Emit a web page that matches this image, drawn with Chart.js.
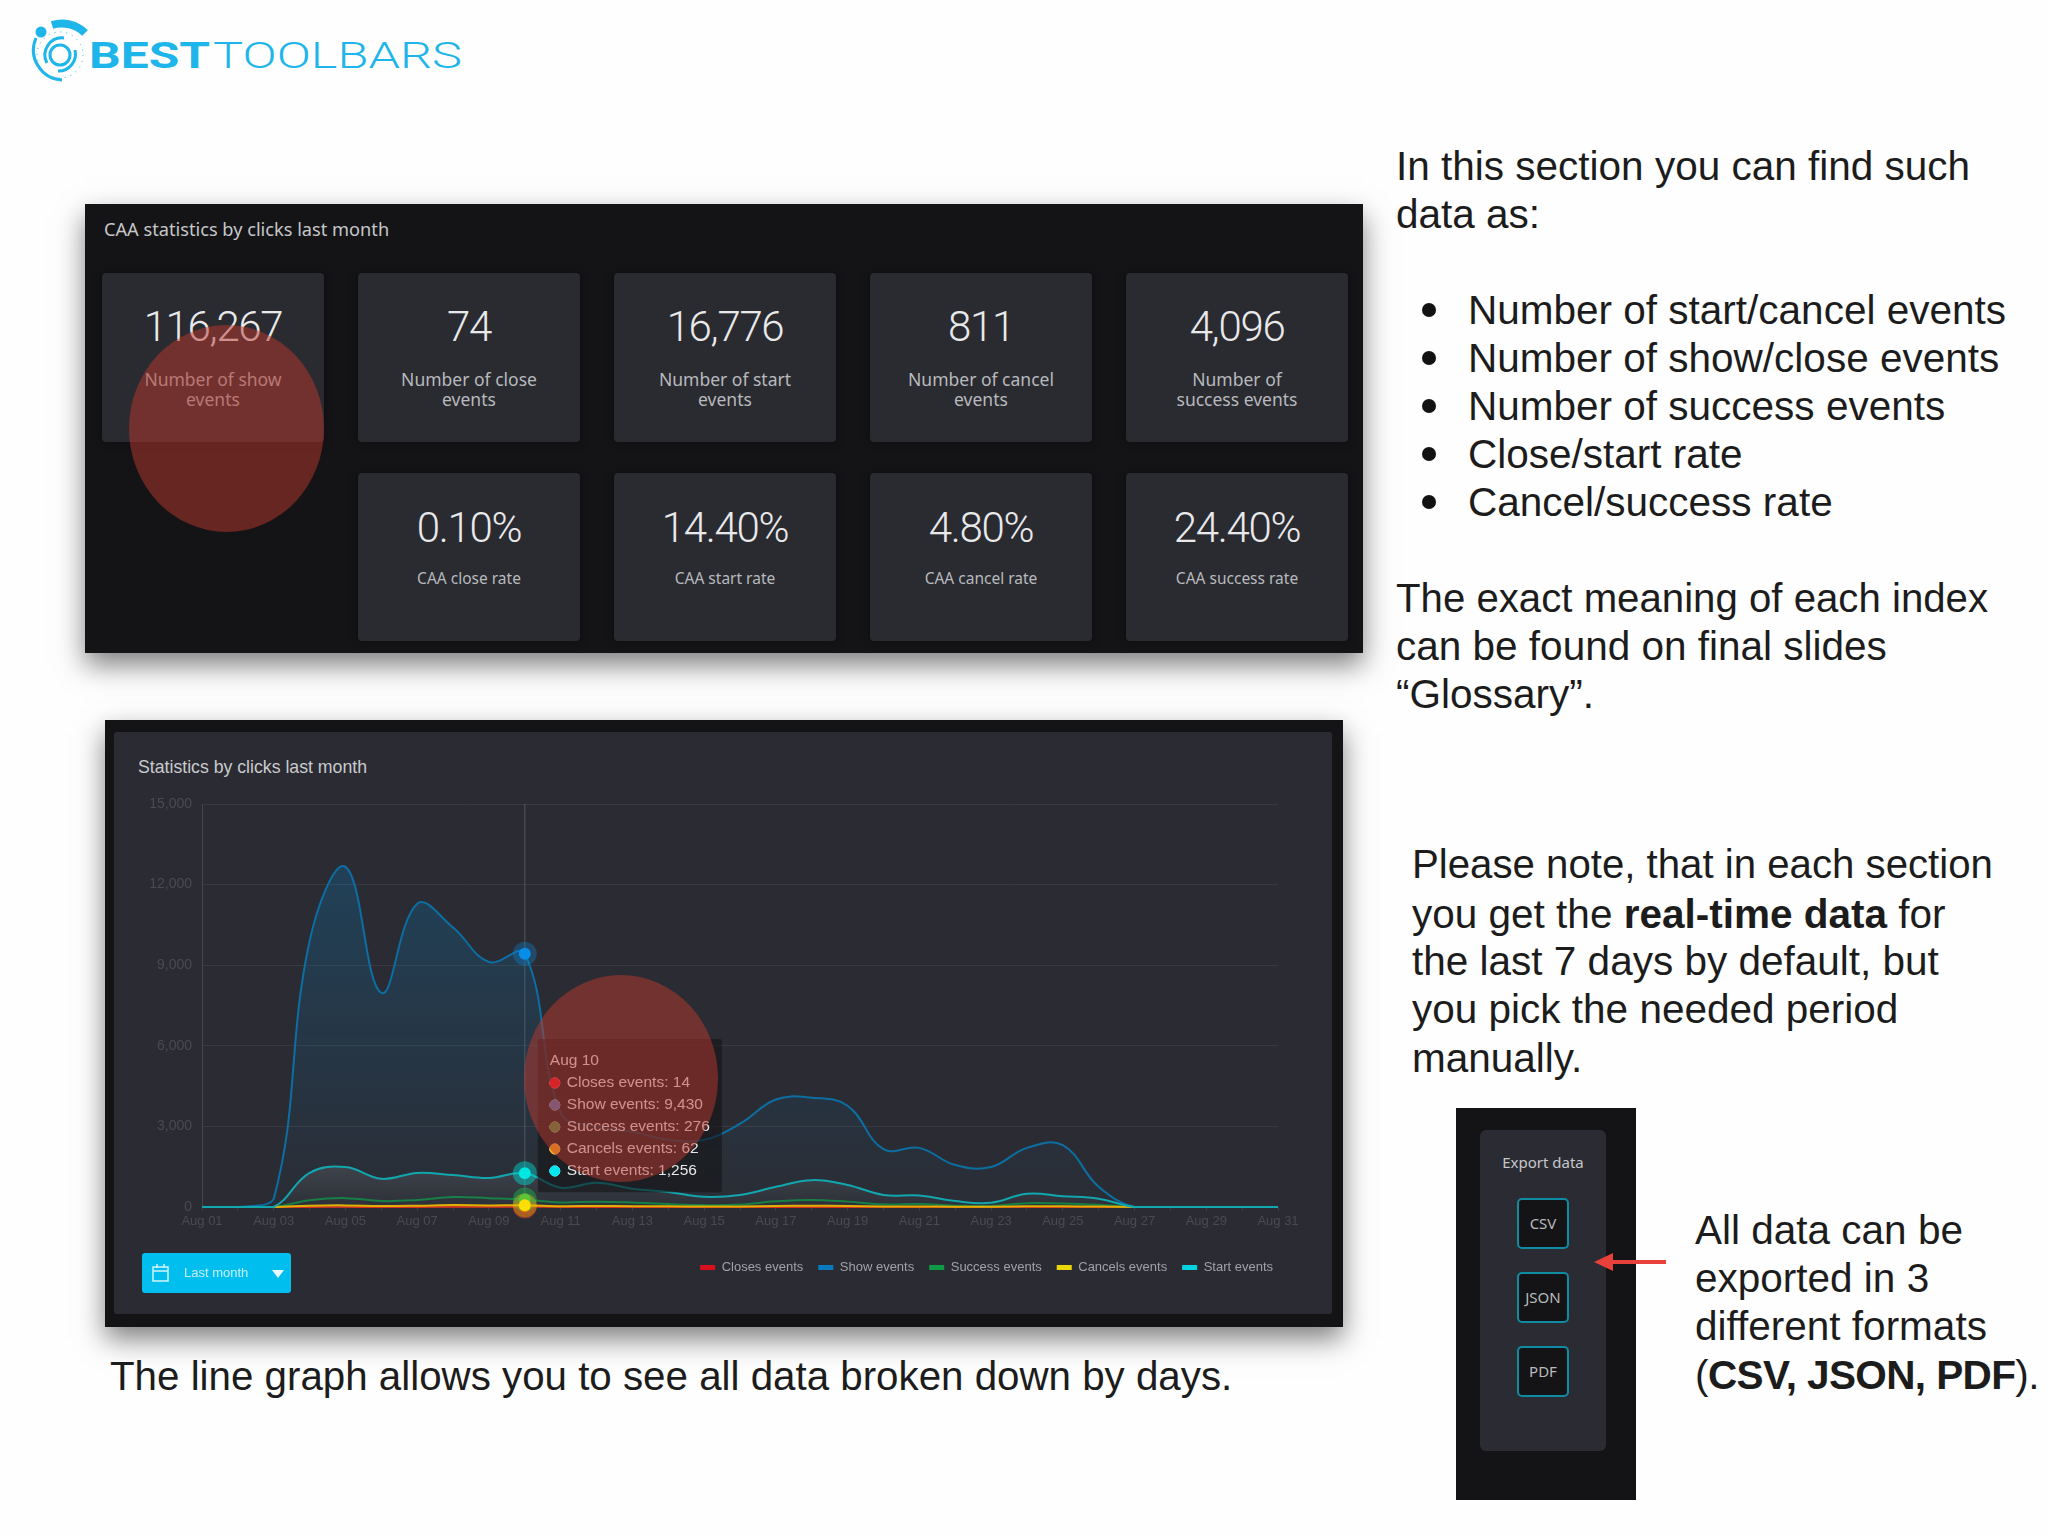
<!DOCTYPE html>
<html>
<head>
<meta charset="utf-8">
<title>Best Toolbars</title>
<script src="https://cdn.jsdelivr.net/npm/chart.js@4"></script>
<style>
html, body { margin: 0; padding: 0; background: #fefefe; }
body { position: relative; width: 2048px; height: 1536px; overflow: hidden; font-family: "Liberation Sans", Arial, sans-serif; }
.abs { position: absolute; }
.t { position: absolute; white-space: nowrap; font-size: 40.5px; line-height: 48px; color: #1c1c1c; }
.dot { position: absolute; left: 1422px; width: 14px; height: 14px; border-radius: 50%; background: #111; }
#panelTop { left: 85px; top: 204px; width: 1278px; height: 449px; background: #141416; box-shadow: 0 12px 26px rgba(0,0,0,.5); }
#cardTitle { position: absolute; left: 19px; top: 13px; color: #c6c7ca; font: 18.2px/24px "Noto Sans", sans-serif; }
#cards { position: absolute; left: 17px; top: 69px; display: grid; grid-template-columns: repeat(5, 222px); grid-template-rows: 169px 168px; column-gap: 34px; row-gap: 31px; }
.card { background: #2a2b31; border-radius: 4px; text-align: center; color: #b8b9bd; box-shadow: 0 0 8px rgba(0,0,0,.35); }
.card .num { font: 300 42px/50px Roboto, sans-serif; letter-spacing: -1.3px; color: #e9e9ea; margin-top: 29px; }
.card .lab { font: 17.5px/20px "Noto Sans", sans-serif; margin-top: 17px; padding: 0 34px; }
.card.low .num { margin-top: 30px; }
.card.low .lab { font-size: 15.5px; margin-top: 15px; padding: 0; }
.empty { background: none; box-shadow: none; }
#panelChart { left: 105px; top: 720px; width: 1238px; height: 607px; background: #141416; box-shadow: 0 12px 26px rgba(0,0,0,.5); }
#panelInner { left: 114px; top: 732px; width: 1218px; height: 582px; background: #2b2c33; border-radius: 3px; }
#chartTitle { left: 138px; top: 755px; color: #c9cacd; font-size: 17.7px; line-height: 24px; }
#myChart { position: absolute; left: 114px; top: 732px; }
#btnMonth { left: 142px; top: 1253px; width: 149px; height: 40px; background: #00bfef; border-radius: 3px; color: #c8effb; font-size: 13px; line-height: 40px; }
#btnMonth span { position: absolute; left: 42px; }
.redspot { position: absolute; background: rgba(185,55,45,.5); border-radius: 50%; }
#exportOuter { left: 1456px; top: 1108px; width: 180px; height: 392px; background: #141416; }
#exportInner { left: 1480px; top: 1130px; width: 126px; height: 321px; background: #2b2c33; border-radius: 6px; }
#exportTitle { left: 1480px; width: 126px; top: 1150px; text-align: center; color: #c6c7ca; font: 15px/24px "Noto Sans", sans-serif; }
.exp { position: absolute; left: 1517px; width: 48px; height: 47px; border: 2px solid #0f8ba3; border-radius: 5px; background: #141416; color: #b9babd; text-align: center; font: 15px/47px "Noto Sans", sans-serif; }
</style>
</head>
<body>

<!-- логотип -->
<svg class="abs" style="left:0;top:0" width="500" height="100">
  <g fill="none" stroke="#1eb6ea">
    <path d="M52 25 A33 33 0 0 1 85 33" stroke-width="8"/>
    <path d="M36 38 A30 30 0 0 0 62 80" stroke-width="3"/>
    <path d="M47 63 A17 17 0 0 1 64 38" stroke-width="3"/>
    <path d="M75 50 A17 17 0 0 1 58 71" stroke-width="3"/>
    <circle cx="60" cy="55" r="10" stroke-width="3"/>
    <circle cx="60" cy="55" r="23" stroke-width="1" stroke-dasharray="1 5"/>
  </g>
  <circle cx="41" cy="32" r="5.5" fill="#1eb6ea"/>
  <text x="89" y="68" font-family="Roboto" font-weight="700" font-size="37" fill="#1eb6ea" textLength="121" lengthAdjust="spacingAndGlyphs">BEST</text>
  <text x="213" y="68" font-family="Roboto" font-weight="300" font-size="37" fill="#1eb6ea" textLength="249" lengthAdjust="spacingAndGlyphs">TOOLBARS</text>
</svg>

<!-- верхняя панель с карточками -->
<div id="panelTop" class="abs">
  <div id="cardTitle">CAA statistics by clicks last month</div>
  <div id="cards"></div>
</div>
<div class="redspot" style="left:129px;top:325px;width:195px;height:207px"></div>

<!-- панель графика -->
<div id="panelChart" class="abs"></div>
<div id="panelInner" class="abs"></div>
<div id="chartTitle" class="abs">Statistics by clicks last month</div>
<canvas id="myChart" width="1218" height="582"></canvas>
<div id="btnMonth" class="abs">
  <svg class="abs" style="left:10px;top:11px" width="18" height="18"><rect x="1" y="3" width="15" height="14" fill="none" stroke="#d5f3fc" stroke-width="1.5"/><path d="M1 7H16M5 0V4M12 0V4" stroke="#d5f3fc" stroke-width="1.5"/></svg>
  <span>Last month</span>
  <svg class="abs" style="left:130px;top:17px" width="12" height="8"><path d="M0 0H12L6 8Z" fill="#e8f8fd"/></svg>
</div>
<div class="redspot" style="left:524px;top:975px;width:194px;height:207px"></div>

<div class="t" style="left:110px;top:1353px;font-size:40.3px">The line graph allows you to see all data broken down by days.</div>

<!-- текст справа -->
<div class="t" style="left:1396px;top:142px">In this section you can find such</div>
<div class="t" style="left:1396px;top:190px">data as:</div>
<div class="dot" style="top:303px"></div><div class="t" style="left:1468px;top:286px">Number of start/cancel events</div>
<div class="dot" style="top:351px"></div><div class="t" style="left:1468px;top:334px">Number of show/close events</div>
<div class="dot" style="top:399px"></div><div class="t" style="left:1468px;top:382px">Number of success events</div>
<div class="dot" style="top:447px"></div><div class="t" style="left:1468px;top:430px">Close/start rate</div>
<div class="dot" style="top:495px"></div><div class="t" style="left:1468px;top:478px">Cancel/success rate</div>
<div class="t" style="left:1396px;top:575px;font-size:40.2px">The exact meaning of each index</div>
<div class="t" style="left:1396px;top:622px">can be found on final slides</div>
<div class="t" style="left:1396px;top:670px">“Glossary”.</div>
<div class="t" style="left:1412px;top:841px;font-size:40.2px">Please note, that in each section</div>
<div class="t" style="left:1412px;top:890px">you get the <b>real-time data</b> for</div>
<div class="t" style="left:1412px;top:937px">the last 7 days by default, but</div>
<div class="t" style="left:1412px;top:985px">you pick the needed period</div>
<div class="t" style="left:1412px;top:1034px">manually.</div>

<!-- экспорт -->
<div id="exportOuter" class="abs"></div>
<div id="exportInner" class="abs"></div>
<div id="exportTitle" class="abs">Export data</div>
<div class="exp" style="top:1198px">CSV</div>
<div class="exp" style="top:1272px">JSON</div>
<div class="exp" style="top:1346px">PDF</div>
<svg class="abs" style="left:1590px;top:1245px" width="80" height="34"><path d="M4 17L23 8V15H76V19H23V26Z" fill="#e8403a"/></svg>
<div class="t" style="left:1695px;top:1206px">All data can be</div>
<div class="t" style="left:1695px;top:1254px">exported in 3</div>
<div class="t" style="left:1695px;top:1302px">different formats</div>
<div class="t" style="left:1695px;top:1351px;letter-spacing:-0.6px">(<b>CSV, JSON, PDF</b>).</div>

<script>
// значения карточек
var cardValues = ['116,267', '74', '16,776', '811', '4,096', '', '0.10%', '14.40%', '4.80%', '24.40%'];
var cardLabels = ['Number of show events', 'Number of close events', 'Number of start events', 'Number of cancel events', 'Number of success events', '', 'CAA close rate', 'CAA start rate', 'CAA cancel rate', 'CAA success rate'];

// данные графика
var days = ['Aug 01', 'Aug 02', 'Aug 03', 'Aug 04', 'Aug 05', 'Aug 06', 'Aug 07', 'Aug 08', 'Aug 09', 'Aug 10', 'Aug 11', 'Aug 12', 'Aug 13', 'Aug 14', 'Aug 15', 'Aug 16', 'Aug 17', 'Aug 18', 'Aug 19', 'Aug 20', 'Aug 21', 'Aug 22', 'Aug 23', 'Aug 24', 'Aug 25', 'Aug 26', 'Aug 27', 'Aug 28', 'Aug 29', 'Aug 30', 'Aug 31'];
var closes = [0, 0, 0, 4, 5, 3, 4, 6, 5, 14, 3, 3, 3, 2, 2, 2, 3, 3, 3, 2, 2, 1, 1, 2, 2, 1, 0, 0, 0, 0, 0];
var shows = [0, 0, 300, 9900, 12660, 7970, 11290, 10400, 9120, 9430, 3500, 3000, 2800, 2500, 2500, 3100, 4000, 4070, 3770, 2150, 2200, 1560, 1490, 2200, 2300, 750, 0, 0, 0, 0, 0];
var successes = [0, 0, 0, 250, 330, 220, 260, 370, 330, 276, 170, 200, 170, 110, 70, 90, 210, 260, 200, 100, 110, 50, 40, 140, 130, 80, 0, 0, 0, 0, 0];
var cancels = [0, 0, 0, 50, 60, 40, 50, 70, 60, 62, 30, 40, 30, 25, 15, 20, 40, 50, 40, 20, 20, 10, 10, 25, 25, 15, 0, 0, 0, 0, 0];
var starts = [0, 0, 0, 1270, 1490, 1050, 1270, 1190, 1080, 1256, 720, 900, 680, 560, 380, 450, 750, 1000, 820, 450, 430, 220, 160, 490, 400, 310, 0, 0, 0, 0, 0];
var yTicks = [0, 3000, 6000, 9000, 12000, 15000];

var legendColors = ['#d8101e', '#0a7ac0', '#0f9a46', '#ecd800', '#00d2e0'];
var tipColors = ['#f00f1e', '#4f74b0', '#4e8c46', '#f4a81c', '#00e6f0'];

function fillCards() {
    var box = document.getElementById('cards');
    cardValues.forEach(function(val, i) {
        var el = document.createElement('div');
        if (val === '') {
            el.className = 'card empty';
        } else {
            el.className = i > 4 ? 'card low' : 'card';
            el.innerHTML = '<div class="num">' + val + '</div><div class="lab">' + cardLabels[i] + '</div>';
        }
        box.appendChild(el);
    });
}

function areaFill(values, rgb, topA, bottomA) {
    return function(c) {
        var chart = c.chart;
        if (!chart.chartArea) return 'transparent';
        var y = chart.scales.y;
        var g = chart.ctx.createLinearGradient(0, y.getPixelForValue(Math.max.apply(null, values)), 0, y.getPixelForValue(0));
        g.addColorStop(0, 'rgba(' + rgb + ',' + topA + ')');
        g.addColorStop(1, 'rgba(' + rgb + ',' + bottomA + ')');
        return g;
    };
}

function line(label, data, color, hover, halo, order) {
    return {
        label: label,
        data: data,
        borderColor: color,
        backgroundColor: color,
        borderWidth: 2,
        tension: 0.4,
        fill: false,
        clip: false,
        order: order,
        pointRadius: 0,
        pointHoverRadius: 6,
        pointHoverBorderWidth: 12,
        pointHoverBackgroundColor: hover,
        pointHoverBorderColor: halo
    };
}

// вертикальная линия у активной точки
var crosshair = {
    id: 'crosshair',
    afterLayout: function(chart) {
        // легенда чуть правее, до края подписей
        chart.legend.right += 10;
    },
    beforeDatasetsDraw: function(chart) {
        var act = chart.getActiveElements();
        if (!act.length) return;
        var ctx = chart.ctx;
        ctx.save();
        ctx.strokeStyle = '#50545e';
        ctx.lineWidth = 1;
        ctx.beginPath();
        ctx.moveTo(act[0].element.x, chart.chartArea.top);
        ctx.lineTo(act[0].element.x, chart.chartArea.bottom);
        ctx.stroke();
        ctx.restore();
    },
    beforeTooltipDraw: function(chart) {
        // после точек остается толстая линия, кружки в подсказке раздуваются
        chart.ctx.lineWidth = 1;
    }
};

function createChart() {
    Chart.Tooltip.positioners.lifted = function(items) {
        var p = Chart.Tooltip.positioners.average.call(this, items);
        return p ? { x: p.x, y: p.y - 32 } : false;
    };

    var dsShow = line('Show events', shows, '#0c6ea2', '#0a8fe8', 'rgba(10,143,232,0.3)', 4);
    dsShow.fill = true;
    dsShow.backgroundColor = areaFill(shows, '0,140,220', 0.22, 0.01);
    var dsStart = line('Start events', starts, '#12a6ae', '#00eef0', 'rgba(0,220,210,0.45)', 1);
    dsStart.fill = true;
    dsStart.backgroundColor = areaFill(starts, '190,190,190', 0.14, 0.02);

    var chart = new Chart(document.getElementById('myChart'), {
        type: 'line',
        data: {
            labels: days,
            datasets: [
                line('Closes events', closes, '#d8301e', '#e0402a', 'rgba(224,64,42,0.5)', 5),
                dsShow,
                line('Success events', successes, '#0f7d42', '#10e040', 'rgba(16,170,70,0.5)', 3),
                line('Cancels events', cancels, '#e0b000', '#ffe800', 'rgba(255,200,0,0.3)', 2),
                dsStart
            ]
        },
        options: {
            responsive: false,
            animation: false,
            devicePixelRatio: 1,
            interaction: { mode: 'index', intersect: false },
            layout: { padding: { left: 28, right: 54, top: 72, bottom: 30 } },
            scales: {
                x: {
                    afterFit: function(s) { s.height = 39; },
                    grid: { drawOnChartArea: false, color: '#3c3e46', tickLength: 4 },
                    border: { color: '#3c3e46' },
                    ticks: {
                        autoSkip: false,
                        maxRotation: 0,
                        color: '#494a52',
                        font: { family: 'Liberation Sans', size: 13 },
                        callback: function(v, i) { return i % 2 === 0 ? days[i] : ''; }
                    }
                },
                y: {
                    min: 0,
                    max: 15000,
                    afterFit: function(s) { s.width = 60; },
                    afterBuildTicks: function(s) { s.ticks = yTicks.map(function(v) { return { value: v }; }); },
                    grid: { color: 'rgba(255,255,255,0.07)', drawTicks: false },
                    border: { color: '#44464e' },
                    ticks: {
                        padding: 10,
                        color: '#494a52',
                        font: { family: 'Liberation Sans', size: 14 },
                        callback: function(v) { return v.toLocaleString('en-US'); }
                    }
                }
            },
            plugins: {
                legend: {
                    position: 'bottom',
                    align: 'end',
                    fullSize: false,
                    labels: {
                        boxWidth: 15,
                        boxHeight: 5,
                        padding: 15,
                        color: '#a0a2a8',
                        font: { family: 'Liberation Sans', size: 13 },
                        sort: function(a, b) { return a.datasetIndex - b.datasetIndex; },
                        generateLabels: function(c) {
                            var items = Chart.defaults.plugins.legend.labels.generateLabels(c);
                            items.forEach(function(it) {
                                it.fillStyle = legendColors[it.datasetIndex];
                                it.strokeStyle = legendColors[it.datasetIndex];
                                it.lineWidth = 0;
                            });
                            return items;
                        }
                    }
                },
                tooltip: {
                    position: 'lifted',
                    xAlign: 'left',
                    yAlign: 'center',
                    caretSize: 0,
                    caretPadding: 13,
                    cornerRadius: 2,
                    padding: 12,
                    backgroundColor: 'rgba(20,20,22,0.6)',
                    titleColor: '#e8e8e8',
                    bodyColor: '#e8e8e8',
                    titleFont: { family: 'Liberation Sans', size: 15.5, weight: 'normal' },
                    bodyFont: { family: 'Liberation Sans', size: 15.5 },
                    titleMarginBottom: 4,
                    bodySpacing: 3.4,
                    boxWidth: 10,
                    boxHeight: 10,
                    boxPadding: 5,
                    usePointStyle: true,
                    itemSort: function(a, b) { return a.datasetIndex - b.datasetIndex; },
                    callbacks: {
                        labelColor: function(item) {
                            return { borderColor: tipColors[item.datasetIndex], backgroundColor: tipColors[item.datasetIndex] };
                        },
                        labelPointStyle: function() { return { pointStyle: 'circle', rotation: 0 }; }
                    }
                }
            }
        },
        plugins: [crosshair]
    });

    // показываем подсказку для Aug 10
    var active = chart.data.datasets.map(function(d, i) { return { datasetIndex: i, index: days.indexOf('Aug 10') }; });
    chart.setActiveElements(active);
    chart.tooltip.setActiveElements(active, { x: 0, y: 0 });
    chart.update();
}

fillCards();
createChart();
</script>
</body>
</html>
